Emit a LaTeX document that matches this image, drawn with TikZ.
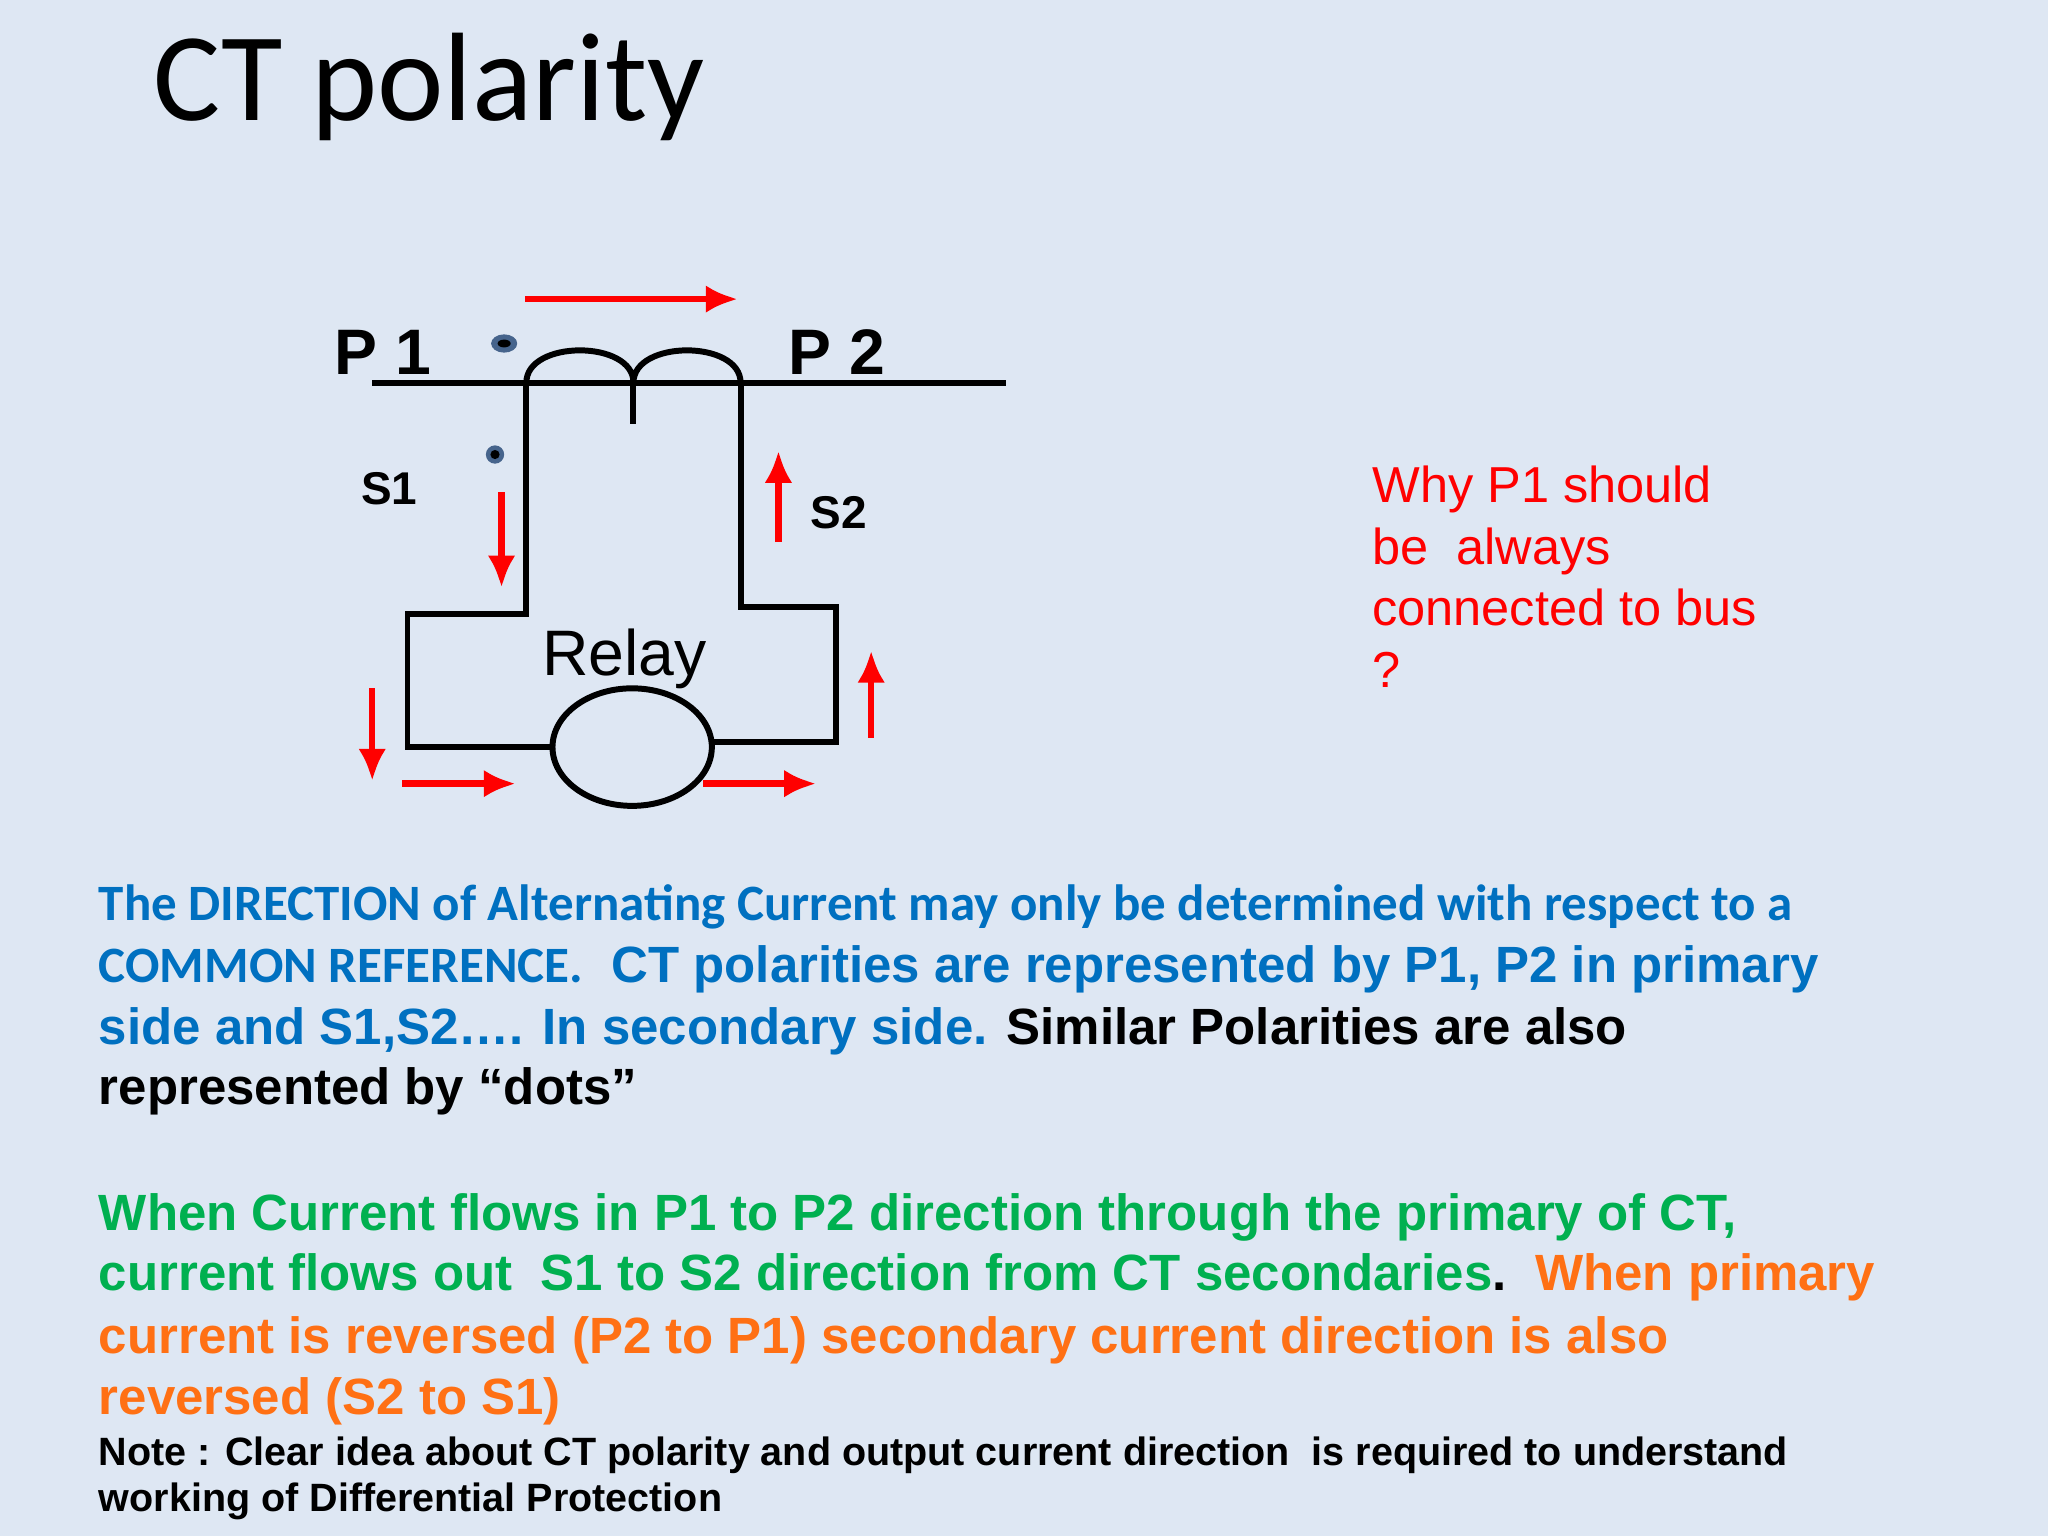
\documentclass[tikz,border=0pt]{standalone}
\usepackage{fontspec}
\usetikzlibrary{arrows.meta}
\setmainfont{Liberation Sans}
\newfontfamily\calfont{Carlito}
\definecolor{bg}{RGB}{222,231,243}
\definecolor{tblue}{RGB}{0,112,192}
\definecolor{tgreen}{RGB}{0,176,80}
\definecolor{torange}{RGB}{255,112,20}
\definecolor{dotb}{RGB}{70,100,140}
\begin{document}
\begin{tikzpicture}[x=0.01cm,y=-0.01cm,
  wire/.style={line width=1.3pt,black},
  rarr/.style={red,line width=1.4pt,-{Latex[length=7pt,width=6pt]}},
  t/.style={anchor=base west,inner sep=0,font=\bfseries\fontsize{11.1}{13}\selectfont},
  lab/.style={anchor=base,inner sep=0,font=\bfseries\fontsize{10}{12}\selectfont}]
\fill[bg] (0,0) rectangle (1568,1176);
\node[anchor=base west,inner sep=0,font=\calfont\fontsize{27.4}{32}\selectfont] (title) at (117,92) {CT polarity};
% diagram
\draw[wire] (285,293) -- (770,293);
\draw[wire] (403,293) .. controls (403,260) and (485,260) .. (485,293) .. controls (485,260) and (567,260) .. (567,293);
\draw[wire] (485,290) -- (485,325);
\draw[wire] (403,293) -- (403,470) -- (312,470) -- (312,572) -- (424,572);
\draw[wire] (567,293) -- (567,465) -- (640,465) -- (640,568) -- (545,568);
\draw[wire] (484,572) ellipse [x radius=61,y radius=45];
\node[anchor=base,inner sep=0,font=\fontsize{14}{16}\selectfont] (relay) at (478,517) {Relay};
\fill[dotb] (386,263) ellipse [x radius=10,y radius=7];
\fill[black] (386,263) ellipse [x radius=5,y radius=3];
\fill[dotb] (379,348) circle (7);
\fill[black] (379,348) circle (3.5);
\node[lab,font=\bfseries\fontsize{14}{16}\selectfont] (p1) at (293,287) {P 1};
\node[lab,font=\bfseries\fontsize{14}{16}\selectfont] (p2) at (641,287) {P 2};
\node[lab] (s1) at (298,386) {S1};
\node[lab] (s2) at (642,405) {S2};
\draw[rarr] (402,229) -- (565,229);
\draw[rarr] (384,377) -- (384,450);
\draw[rarr] (596,415) -- (596,345);
\draw[rarr] (285,527) -- (285,598);
\draw[rarr] (308,600) -- (395,600);
\draw[rarr] (538,600) -- (625,600);
\draw[rarr] (667,565) -- (667,498);
\node[anchor=north west,align=left,inner sep=0,text=red,font=\fontsize{11}{13.4}\selectfont] (q) at (1050,356) {Why P1 should\\be\ \ always\\connected to bus\\?};
\node[t,text=tblue] (l1) at (75,705) {\calfont\fontsize{11.1}{13}\selectfont The DIRECTION of Alternating Current may only be determined with respect to a};
\node[t,text=tblue] (l2) at (75,752) {{\calfont\fontsize{11.1}{13}\selectfont COMMON REFERENCE.}\ \ CT polarities are represented by P1, P2 in primary};
\node[t,text=tblue] (l3) at (75,800) {side and S1,S2…. In secondary side. \textcolor{black}{Similar Polarities are also}};
\node[t] (l4) at (75,846) {represented by “dots”};
\node[t,text=tgreen] (g1) at (75,942) {When Current flows in P1 to P2 direction through the primary of CT,};
\node[t,text=tgreen] (g2) at (75,988) {current flows out\ \ S1 to S2 direction from CT secondaries\textcolor{black}{.}\ \ \textcolor{torange}{When primary}};
\node[t,text=torange] (o1) at (75,1036) {current is reversed (P2 to P1) secondary current direction is also};
\node[t,text=torange] (o2) at (75,1083) {reversed (S2 to S1)};
\node[t,font=\bfseries\fontsize{8.6}{10}\selectfont] (n1) at (75,1122) {Note : Clear idea about CT polarity and output current direction\ \ is required to understand};
\node[t,font=\bfseries\fontsize{8.6}{10}\selectfont] (n2) at (75,1157) {working of Differential Protection};
\end{tikzpicture}
\end{document}
